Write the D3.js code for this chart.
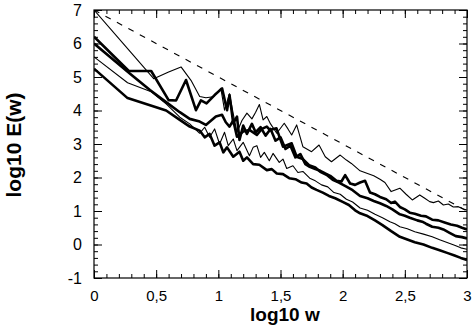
<!DOCTYPE html>
<html>
<head>
<meta charset="utf-8">
<script src="https://cdn.jsdelivr.net/npm/d3@7"></script>
<style>
  html, body { margin: 0; padding: 0; background: #fff; }
  svg { display: block; }
  text { font-family: "Liberation Sans", Arial, Helvetica, sans-serif; fill: #000; }
</style>
</head>
<body>
<svg id="chart" width="474" height="325"></svg>
<script>
// ---- data (log10 w, log10 E(w)) ----
const xTicks = [0, 0.5, 1, 1.5, 2, 2.5, 3];
const xTickLabels = ["0", "0,5", "1", "1,5", "2", "2,5", "3"];
const yTicks = [-1, 0, 1, 2, 3, 4, 5, 6, 7];
const yTickLabels = ["-1", "0", "1", "2", "3", "4", "5", "6", "7"];

const refLine = [[0, 7], [3, 1]];

const seriesA = [[0,7.0],[0.30,5.72],[0.48,4.95],[0.60,5.15],[0.70,5.3],[0.78,4.9],[0.85,4.42],[0.90,4.38],[0.96,4.41],[1.02,4.66],[1.05,4.01],[1.09,4.5],[1.12,3.9],[1.15,3.35],[1.19,3.7],[1.23,3.92],[1.27,3.75],[1.30,3.95],[1.33,4.18],[1.36,3.72],[1.39,3.82],[1.42,3.6],[1.47,3.32],[1.53,3.62],[1.56,3.45],[1.59,3.27],[1.63,3.57],[1.68,2.92],[1.75,2.77],[1.81,2.97],[1.86,2.62],[1.91,2.47],[1.98,2.67],[2.03,2.52],[2.07,2.42],[2.14,2.2],[2.2,2.12],[2.25,2.05],[2.3,1.95],[2.34,1.85],[2.39,1.58],[2.46,1.68],[2.51,1.5],[2.56,1.33],[2.62,1.48],[2.66,1.38],[2.70,1.28],[2.73,1.25],[2.77,1.3],[2.81,1.18],[2.85,1.21],[2.89,1.12],[2.93,1.13],[2.97,1.06],[3.0,1.03]];

const seriesB = [[0,6.2],[0.28,5.18],[0.46,5.18],[0.6,4.31],[0.66,4.3],[0.74,4.91],[0.82,4.01],[0.86,4.3],[0.905,4.21],[0.97,4.46],[1.03,4.66],[1.07,4.01],[1.09,4.46],[1.12,3.62],[1.15,3.82],[1.17,3.12],[1.2,3.55],[1.23,3.3],[1.27,3.6],[1.3,3.35],[1.34,3.5],[1.38,3.25],[1.42,3.45],[1.46,3.1],[1.5,3.2],[1.54,2.85],[1.58,2.95],[1.62,2.6],[1.66,2.7],[1.7,2.4],[1.735,2.32],[1.78,2.25],[1.82,2.2],[1.86,2.12],[1.9,2.05],[1.95,1.9],[1.99,1.88],[2.02,2.07],[2.06,1.82],[2.1,1.78],[2.14,1.85],[2.18,1.9],[2.22,1.55],[2.26,1.5],[2.3,1.42],[2.35,1.35],[2.39,1.24],[2.42,1.28],[2.46,1.12],[2.5,1.05],[2.54,0.95],[2.58,0.92],[2.63,0.86],[2.67,0.84],[2.72,0.74],[2.77,0.72],[2.82,0.66],[2.87,0.6],[2.92,0.56],[2.96,0.5],[3.0,0.45]];

const seriesC = [[0,6.0],[0.29,5.1],[0.45,4.61],[0.58,4.25],[0.69,3.95],[0.77,3.75],[0.85,3.67],[0.9,3.57],[0.98,3.82],[1.03,3.87],[1.06,3.65],[1.09,3.52],[1.12,3.7],[1.15,3.22],[1.2,3.37],[1.25,3.42],[1.31,3.27],[1.35,3.45],[1.39,3.52],[1.414,3.42],[1.467,3.47],[1.52,2.92],[1.59,3.02],[1.63,2.62],[1.68,2.55],[1.73,2.37],[1.78,2.3],[1.82,2.17],[1.87,2.08],[1.92,1.93],[1.97,1.85],[2.03,1.73],[2.08,1.62],[2.14,1.45],[2.2,1.38],[2.25,1.3],[2.3,1.23],[2.35,1.15],[2.4,1.05],[2.46,0.9],[2.5,0.86],[2.54,0.8],[2.6,0.72],[2.64,0.68],[2.67,0.62],[2.72,0.53],[2.77,0.5],[2.81,0.45],[2.86,0.35],[2.91,0.25],[2.96,0.22],[3.0,0.18]];

const seriesD = [[0,5.6],[0.27,4.83],[0.46,4.56],[0.58,4.2],[0.69,3.8],[0.77,3.6],[0.85,3.32],[0.89,3.5],[0.93,3.2],[0.97,3.45],[1.01,3.0],[1.05,3.35],[1.08,2.95],[1.12,3.15],[1.15,2.8],[1.2,3.05],[1.25,2.65],[1.28,2.9],[1.31,2.95],[1.34,2.6],[1.37,2.75],[1.41,2.5],[1.44,2.72],[1.49,2.45],[1.52,2.55],[1.55,2.27],[1.6,2.35],[1.64,2.15],[1.68,2.18],[1.735,1.98],[1.78,1.9],[1.83,1.78],[1.88,1.72],[1.93,1.55],[1.98,1.5],[2.03,1.35],[2.08,1.27],[2.14,1.09],[2.2,1.02],[2.26,0.9],[2.32,0.8],[2.38,0.68],[2.42,0.62],[2.46,0.53],[2.52,0.47],[2.58,0.38],[2.65,0.31],[2.72,0.23],[2.78,0.14],[2.84,0.06],[2.9,-0.02],[2.95,-0.1],[3.0,-0.14]];

const seriesE = [[0,5.25],[0.27,4.37],[0.45,4.16],[0.58,4.0],[0.69,3.72],[0.77,3.52],[0.85,3.4],[0.89,3.2],[0.93,3.3],[0.97,2.95],[1.01,3.05],[1.04,2.75],[1.07,2.9],[1.12,2.62],[1.17,2.77],[1.2,2.5],[1.23,2.6],[1.28,2.4],[1.33,2.38],[1.39,2.22],[1.43,2.25],[1.47,2.12],[1.52,2.1],[1.57,1.98],[1.62,1.95],[1.67,1.85],[1.71,1.82],[1.75,1.7],[1.79,1.63],[1.84,1.55],[1.89,1.45],[1.94,1.38],[2.0,1.27],[2.05,1.18],[2.1,1.02],[2.14,0.93],[2.2,0.85],[2.26,0.72],[2.32,0.58],[2.39,0.4],[2.46,0.23],[2.52,0.15],[2.58,0.07],[2.65,0.0],[2.72,-0.1],[2.78,-0.17],[2.84,-0.25],[2.9,-0.33],[2.95,-0.4],[3.0,-0.46]];

const series = [
  { name: "A", data: seriesA, thick: false },
  { name: "B", data: seriesB, thick: true },
  { name: "C", data: seriesC, thick: true },
  { name: "D", data: seriesD, thick: false },
  { name: "E", data: seriesE, thick: true }
];

// ---- layout ----
const svg = d3.select("#chart");
const L = 94, R = 467, T = 10, B = 278;
const x = d3.scaleLinear().domain([0, 3]).range([L, R]);
const y = d3.scaleLinear().domain([-1, 7]).range([B, T]);

svg.append("rect").attr("width", 474).attr("height", 325).attr("fill", "#fff");

const xMinor = d3.range(0, 3.0001, 0.1).map(v => +v.toFixed(2));
const yMinor = d3.range(-1, 7.0001, 0.2).map(v => +v.toFixed(2));

function styleAxis(g) {
  g.select(".domain").remove();
  g.selectAll(".tick line").attr("stroke", "#000").attr("stroke-width", 1);
}

// minor ticks (4 sides)
svg.append("g").attr("transform", `translate(0,${B})`)
  .call(d3.axisBottom(x).tickValues(xMinor).tickSize(-4).tickFormat("")).call(styleAxis);
svg.append("g").attr("transform", `translate(0,${T})`)
  .call(d3.axisTop(x).tickValues(xMinor).tickSize(-4).tickFormat("")).call(styleAxis);
svg.append("g").attr("transform", `translate(${L},0)`)
  .call(d3.axisLeft(y).tickValues(yMinor).tickSize(-4).tickFormat("")).call(styleAxis);
svg.append("g").attr("transform", `translate(${R},0)`)
  .call(d3.axisRight(y).tickValues(yMinor).tickSize(-4).tickFormat("")).call(styleAxis);

// major ticks with labels
const gx = svg.append("g").attr("transform", `translate(0,${B})`)
  .call(d3.axisBottom(x).tickValues(xTicks).tickSizeInner(-8).tickSizeOuter(0).tickPadding(12)
    .tickFormat((d, i) => xTickLabels[i]));
gx.call(styleAxis);
gx.selectAll(".tick text").attr("font-size", 15).attr("font-family", "Liberation Sans, Arial, sans-serif");

const gy = svg.append("g").attr("transform", `translate(${L},0)`)
  .call(d3.axisLeft(y).tickValues(yTicks).tickSizeInner(-8).tickSizeOuter(0).tickPadding(12)
    .tickFormat((d, i) => yTickLabels[i]));
gy.call(styleAxis);
gy.selectAll(".tick text").attr("font-size", 16).attr("font-family", "Liberation Sans, Arial, sans-serif");

svg.append("g").attr("transform", `translate(0,${T})`)
  .call(d3.axisTop(x).tickValues(xTicks).tickSize(-8).tickFormat("")).call(styleAxis);
svg.append("g").attr("transform", `translate(${R},0)`)
  .call(d3.axisRight(y).tickValues(yTicks).tickSize(-8).tickFormat("")).call(styleAxis);

// frame
svg.append("rect").attr("x", L).attr("y", T).attr("width", R - L).attr("height", B - T)
  .attr("fill", "none").attr("stroke", "#000").attr("stroke-width", 1.2);

// lines
const line = d3.line().x(d => x(d[0])).y(d => y(d[1]));
svg.append("clipPath").attr("id", "plotclip")
  .append("rect").attr("x", L).attr("y", T).attr("width", R - L).attr("height", B - T);

const plot = svg.append("g").attr("clip-path", "url(#plotclip)");

plot.append("path").datum(refLine).attr("d", line)
  .attr("fill", "none").attr("stroke", "#000").attr("stroke-width", 1.1)
  .attr("stroke-dasharray", "6,7");

plot.selectAll("path.series").data(series).join("path")
  .attr("class", "series")
  .attr("d", d => line(d.data))
  .attr("fill", "none").attr("stroke", "#000")
  .attr("stroke-width", d => d.thick ? 2.6 : 1.1)
  .attr("stroke-linejoin", "round");

// axis titles
svg.append("text").attr("x", 250).attr("y", 321)
  .attr("font-size", 19).attr("font-weight", "bold").text("log10 w");
svg.append("text").attr("transform", "translate(21,145) rotate(-90)")
  .attr("text-anchor", "middle").attr("font-size", 21).attr("font-weight", "bold")
  .text("log10 E(w)");
</script>
</body>
</html>
